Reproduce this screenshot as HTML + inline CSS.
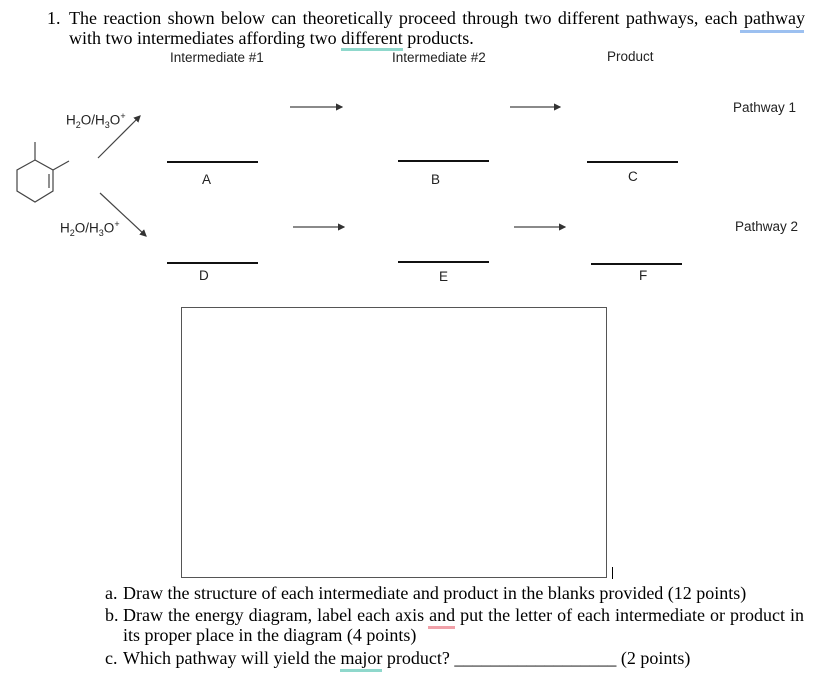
<!DOCTYPE html><html><head><style>
body{margin:0;width:839px;height:675px;background:#fff;position:relative;overflow:hidden}
.s{position:absolute;font-family:"Liberation Serif",serif;font-size:18px;color:#000;white-space:nowrap}
.j{text-align:justify;text-align-last:justify;white-space:normal}
.a{position:absolute;font-family:"Liberation Sans",sans-serif;font-size:13.5px;color:#222;white-space:nowrap}
.bar{position:absolute;height:2px;background:#111}
</style></head><body>
<div class="s" style="left:47px;top:8px">1.</div>
<div class="s j" style="left:69px;top:8px;width:736px">The reaction shown below can theoretically proceed through two different pathways, each pathway</div>
<div class="s" style="left:69px;top:28px">with two intermediates affording two different products.</div>
<div style="position:absolute;left:740px;top:30px;width:64px;height:3px;background:#9cc0f0"></div>
<div style="position:absolute;left:341px;top:48px;width:62px;height:3px;background:#8fd8cc"></div>
<div class="a" style="left:170px;top:50px">Intermediate #1</div>
<div class="a" style="left:392px;top:50px">Intermediate #2</div>
<div class="a" style="left:607px;top:49px">Product</div>
<div class="a" style="left:733px;top:100px">Pathway 1</div>
<div class="a" style="left:735px;top:219px">Pathway 2</div>
<div class="a" style="left:66px;top:111px">H<sub style="font-size:9px">2</sub>O/H<sub style="font-size:9px">3</sub>O<sup style="font-size:9px">+</sup></div>
<div class="a" style="left:60px;top:219px">H<sub style="font-size:9px">2</sub>O/H<sub style="font-size:9px">3</sub>O<sup style="font-size:9px">+</sup></div>
<div class="bar" style="left:167px;top:161px;width:91px"></div>
<div class="bar" style="left:398px;top:160px;width:91px"></div>
<div class="bar" style="left:587px;top:161px;width:91px"></div>
<div class="bar" style="left:167px;top:262px;width:91px"></div>
<div class="bar" style="left:398px;top:261px;width:91px"></div>
<div class="bar" style="left:591px;top:263px;width:91px"></div>
<div class="a" style="left:202px;top:172px">A</div>
<div class="a" style="left:431px;top:172px">B</div>
<div class="a" style="left:628px;top:169px">C</div>
<div class="a" style="left:199px;top:268px">D</div>
<div class="a" style="left:439px;top:269px">E</div>
<div class="a" style="left:639px;top:268px">F</div>
<svg width="839" height="675" style="position:absolute;left:0;top:0">
<defs><marker id="m" markerWidth="6" markerHeight="6" refX="5" refY="3" orient="auto"><path d="M0,0 L6,3 L0,6z" fill="#333"/></marker></defs>
<g stroke="#444" stroke-width="1.2" fill="none">
<polygon points="35,160 53,170 53,191 35,202 17,191 17,170"/>
<line x1="35" y1="160" x2="35" y2="142"/>
<line x1="53" y1="170" x2="69" y2="161"/>
<line x1="49" y1="174" x2="49" y2="188"/>
<line x1="98" y1="158" x2="140" y2="116" marker-end="url(#m)"/>
<line x1="100" y1="193" x2="146" y2="236" marker-end="url(#m)"/>
<line x1="290" y1="107" x2="342" y2="107" marker-end="url(#m)"/>
<line x1="510" y1="107" x2="560" y2="107" marker-end="url(#m)"/>
<line x1="293" y1="227" x2="344" y2="227" marker-end="url(#m)"/>
<line x1="514" y1="227" x2="565" y2="227" marker-end="url(#m)"/>
</g>
<rect x="181.5" y="307.5" width="425" height="270" fill="none" stroke="#555" stroke-width="1"/>
<line x1="612.5" y1="567" x2="612.5" y2="579" stroke="#000"/>
</svg>
<div class="s" style="left:105px;top:583px">a.</div>
<div class="s" style="left:123px;top:583px">Draw the structure of each intermediate and product in the blanks provided (12 points)</div>
<div class="s" style="left:105px;top:605px">b.</div>
<div class="s j" style="left:123px;top:605px;width:681px">Draw the energy diagram, label each axis and put the letter of each intermediate or product in</div>
<div style="position:absolute;left:428px;top:626px;width:27px;height:3px;background:#f0a0a8"></div>
<div class="s" style="left:123px;top:625px">its proper place in the diagram (4 points)</div>
<div class="s" style="left:105px;top:648px">c.</div>
<div class="s" style="left:123px;top:648px">Which pathway will yield the major product? __________________ (2 points)</div>
<div style="position:absolute;left:340px;top:669px;width:42px;height:3px;background:#8fd8cc"></div>
</body></html>
